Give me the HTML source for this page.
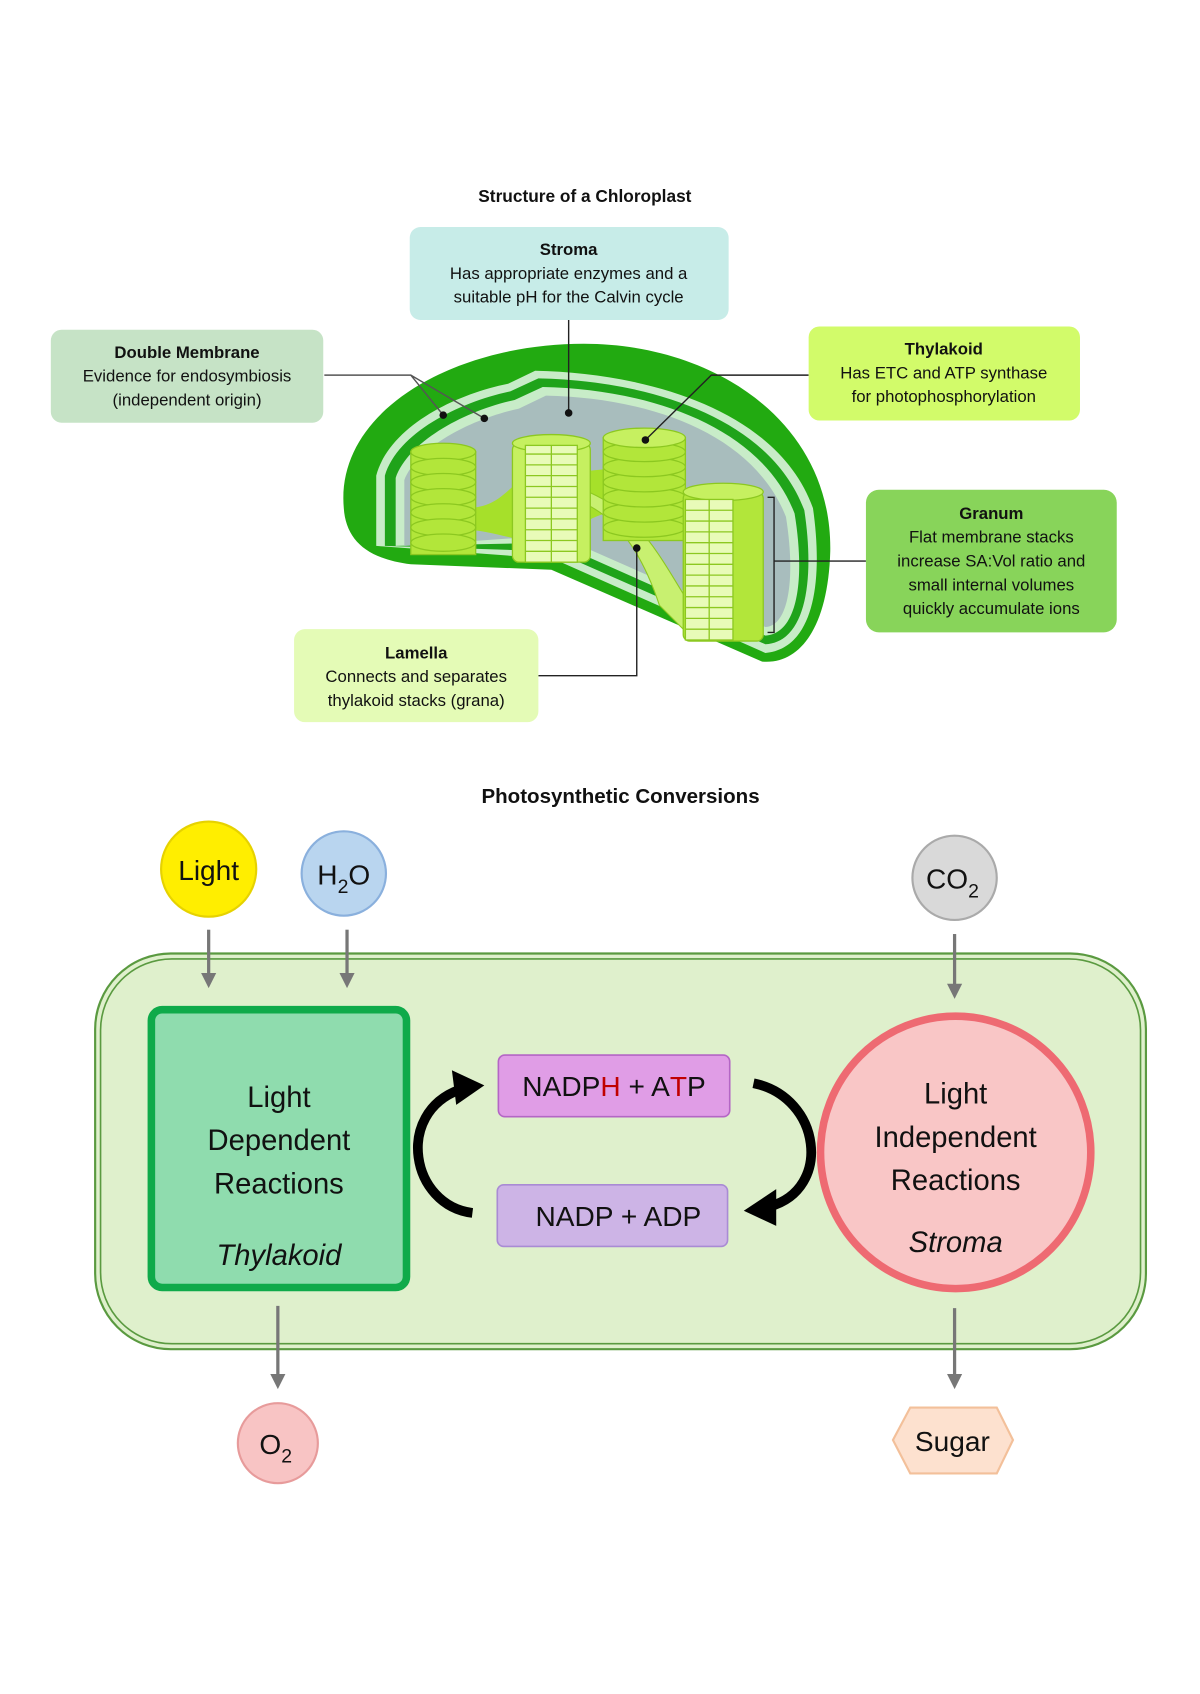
<!DOCTYPE html>
<html><head><meta charset="utf-8"><style>html,body{margin:0;padding:0;background:#fff}svg{display:block}</style></head><body>
<svg xmlns="http://www.w3.org/2000/svg" width="1200" height="1694" viewBox="0 0 1110 1567" font-family="Liberation Sans, sans-serif">
<rect width="1110" height="1567" fill="#fff"/>
<!-- Top title -->
<text x="541" y="187" font-size="16" font-weight="bold" text-anchor="middle" fill="#111">Structure of a Chloroplast</text>

<!-- Chloroplast -->
<path d="M318,470 C310,380 420,318 540,318 C660,318 770,390 768,510 C766,580 740,615 705,612 L510,527 L380,522 C340,517 320,500 318,470 Z" fill="#22aa11"/>
<path d="M348,505 L348,440 C360,395 420,365 470,355 L495,343 C600,345 720,380 752,470 C762,540 752,600 708,604 L512,517 Z" fill="#c8ecc8"/>
<path d="M356,505 L356,440 C368,400 425,372 472,362 L498,350 C600,352 712,386 744,472 C754,538 745,594 708,596 L513,510 Z" fill="#1fa31a"/>
<path d="M366,505 L366,442 C378,408 430,380 476,370 L502,358 C600,360 704,394 735,475 C745,536 738,586 708,588 L514,502 Z" fill="#c8ecc8"/>
<path d="M374,505 L374,444 C386,414 434,388 480,378 L505,366 C600,368 696,400 727,478 C736,534 730,579 708,580 L515,495 Z" fill="#a8bdbd"/>
<!-- lamella connections -->
<path d="M430,470 C470,470 470,440 500,440 L600,430 L600,470 C560,470 540,480 520,500 C500,510 460,490 430,490 Z" fill="#a6e02a"/>
<path d="M500,455 C560,460 590,500 610,560 L640,590 L650,575 C620,540 600,470 530,450 Z" fill="#c8f070" stroke="#8cc820" stroke-width="1"/>
<!-- stack 1 -->
<g fill="#b2e63a" stroke="#8cc820" stroke-width="1.2">
<rect x="380" y="418" width="60" height="95"/>
<ellipse cx="410" cy="418" rx="30" ry="8"/><ellipse cx="410" cy="432" rx="30" ry="8"/><ellipse cx="410" cy="446" rx="30" ry="8"/><ellipse cx="410" cy="460" rx="30" ry="8"/><ellipse cx="410" cy="474" rx="30" ry="8"/><ellipse cx="410" cy="488" rx="30" ry="8"/><ellipse cx="410" cy="502" rx="30" ry="8"/>
</g>
<!-- stack 2 cut -->
<g fill="#c6f060" stroke="#8cc820" stroke-width="1.2">
<rect x="474" y="410" width="72" height="110" rx="6"/>
<ellipse cx="510" cy="410" rx="36" ry="8"/>
<rect x="486" y="412" width="48" height="108" fill="#e8fbb8"/>
<path d="M486,420h48M486,430h48M486,440h48M486,450h48M486,460h48M486,470h48M486,480h48M486,490h48M486,500h48M486,510h48M510,412v108" fill="none"/>
</g>
<!-- stack 3 -->
<g fill="#b2e63a" stroke="#8cc820" stroke-width="1.2">
<rect x="558" y="405" width="76" height="95"/>
<ellipse cx="596" cy="488" rx="38" ry="9"/><ellipse cx="596" cy="474" rx="38" ry="9"/><ellipse cx="596" cy="460" rx="38" ry="9"/><ellipse cx="596" cy="446" rx="38" ry="9"/><ellipse cx="596" cy="432" rx="38" ry="9"/><ellipse cx="596" cy="418" rx="38" ry="9"/><ellipse cx="596" cy="405" rx="38" ry="9" fill="#c6f060"/>
</g>
<!-- stack 4 cut -->
<g fill="#b2e63a" stroke="#8cc820" stroke-width="1.2">
<rect x="632" y="455" width="74" height="138" rx="6"/>
<ellipse cx="669" cy="455" rx="37" ry="8" fill="#c6f060"/>
<rect x="634" y="462" width="44" height="130" fill="#e8fbb8"/>
<path d="M634,472h44M634,482h44M634,492h44M634,502h44M634,512h44M634,522h44M634,532h44M634,542h44M634,552h44M634,562h44M634,572h44M634,582h44M656,462v130" fill="none"/>
</g>

<!-- connector lines -->
<g stroke="#222" stroke-width="1.3" fill="none">
<path d="M526,296 V382"/>
<path d="M300,347 H380 L410,384 M380,347 L448,387" stroke="#555"/>
<path d="M748,347 H658 L597,407"/>
<path d="M801,519 H716 M710,460 H716 V585 H710"/>
<path d="M498,625 H589 V507"/>
</g>
<g fill="#111"><circle cx="526" cy="382" r="3.5"/><circle cx="410" cy="384" r="3.5"/><circle cx="448" cy="387" r="3.5"/><circle cx="597" cy="407" r="3.5"/><circle cx="589" cy="507" r="3.5"/></g>

<!-- label boxes -->
<g font-size="15.5" text-anchor="middle" fill="#111">
<rect x="379" y="210" width="295" height="86" rx="10" fill="#c7ece8"/>
<text x="526" y="236" font-weight="bold">Stroma</text>
<text x="526" y="258">Has appropriate enzymes and a</text>
<text x="526" y="280">suitable pH for the Calvin cycle</text>

<rect x="47" y="305" width="252" height="86" rx="10" fill="#c6e3c6"/>
<text x="173" y="331" font-weight="bold">Double Membrane</text>
<text x="173" y="353">Evidence for endosymbiosis</text>
<text x="173" y="375">(independent origin)</text>

<rect x="748" y="302" width="251" height="87" rx="10" fill="#d2fb6a"/>
<text x="873" y="328" font-weight="bold">Thylakoid</text>
<text x="873" y="350">Has ETC and ATP synthase</text>
<text x="873" y="372">for photophosphorylation</text>

<rect x="801" y="453" width="232" height="132" rx="12" fill="#88d45a"/>
<text x="917" y="480" font-weight="bold">Granum</text>
<text x="917" y="502">Flat membrane stacks</text>
<text x="917" y="524">increase SA:Vol ratio and</text>
<text x="917" y="546">small internal volumes</text>
<text x="917" y="568">quickly accumulate ions</text>

<rect x="272" y="582" width="226" height="86" rx="10" fill="#e4fbb6"/>
<text x="385" y="609" font-weight="bold">Lamella</text>
<text x="385" y="631">Connects and separates</text>
<text x="385" y="653">thylakoid stacks (grana)</text>
</g>

<!-- Bottom -->
<text x="574" y="743" font-size="19" font-weight="bold" text-anchor="middle" fill="#111">Photosynthetic Conversions</text>

<rect x="88" y="882" width="972" height="366" rx="70" fill="#dff0cc" stroke="#5a9a40" stroke-width="2"/>
<rect x="93" y="887" width="962" height="356" rx="66" fill="none" stroke="#5a9a40" stroke-width="1.5"/>

<!-- arrows gray -->
<g stroke="#777" stroke-width="3" fill="#777">
<line x1="193" y1="860" x2="193" y2="902"/><polygon points="186,900 200,900 193,914" stroke="none"/>
<line x1="321" y1="860" x2="321" y2="902"/><polygon points="314,900 328,900 321,914" stroke="none"/>
<line x1="883" y1="864" x2="883" y2="912"/><polygon points="876,910 890,910 883,924" stroke="none"/>
<line x1="257" y1="1208" x2="257" y2="1273"/><polygon points="250,1271 264,1271 257,1285" stroke="none"/>
<line x1="883" y1="1210" x2="883" y2="1273"/><polygon points="876,1271 890,1271 883,1285" stroke="none"/>
</g>

<g font-size="27" text-anchor="middle" fill="#111">
<ellipse cx="193" cy="804" rx="44" ry="44" fill="#ffee00" stroke="#e6d200" stroke-width="2"/>
<text x="193" y="814" font-size="26">Light</text>
<ellipse cx="318" cy="808" rx="39" ry="39" fill="#b9d5ef" stroke="#8ab0dd" stroke-width="2"/>
<text x="318" y="818" font-size="26">H<tspan font-size="18" dy="8">2</tspan><tspan dy="-8">O</tspan></text>
<ellipse cx="883" cy="812" rx="39" ry="39" fill="#d9d9d9" stroke="#aaaaaa" stroke-width="2"/>
<text x="881" y="822" font-size="26">CO<tspan font-size="18" dy="8">2</tspan></text>

<rect x="140" y="934" width="236" height="257" rx="10" fill="#8fdcae" stroke="#0faa4a" stroke-width="7"/>
<text x="258" y="1024">Light</text>
<text x="258" y="1064">Dependent</text>
<text x="258" y="1104">Reactions</text>
<text x="258" y="1170" font-style="italic">Thylakoid</text>

<ellipse cx="884" cy="1066" rx="125" ry="126" fill="#f9c6c6" stroke="#ee6a72" stroke-width="7"/>
<text x="884" y="1021">Light</text>
<text x="884" y="1061">Independent</text>
<text x="884" y="1101">Reactions</text>
<text x="884" y="1158" font-style="italic">Stroma</text>

<rect x="461" y="976" width="214" height="57" rx="6" fill="#e09de6" stroke="#b466c5" stroke-width="1.5"/>
<text x="568" y="1014" font-size="26">NADP<tspan fill="#c00000">H</tspan> + A<tspan fill="#c00000">T</tspan>P</text>
<rect x="460" y="1096" width="213" height="57" rx="6" fill="#cdb4e6" stroke="#a98bd4" stroke-width="1.5"/>
<text x="572" y="1134" font-size="26">NADP + ADP</text>

<ellipse cx="257" cy="1335" rx="37" ry="37" fill="#f8c4c4" stroke="#e79b9b" stroke-width="2"/>
<text x="255" y="1345" font-size="26">O<tspan font-size="18" dy="8">2</tspan></text>
<polygon points="842,1302 922,1302 937,1332 922,1363 842,1363 826,1332" fill="#fde1cf" stroke="#f3c09a" stroke-width="2"/>
<text x="881" y="1342" font-size="26">Sugar</text>
</g>

<!-- curved black arrows -->
<path d="M437,1122 C380,1115 365,1030 425,1008" fill="none" stroke="#000" stroke-width="9"/>
<polygon points="418,990 448,1004 422,1022" fill="#000"/>
<path d="M697,1002 C760,1015 770,1100 712,1116" fill="none" stroke="#000" stroke-width="9"/>
<polygon points="718,1100 688,1120 718,1134" fill="#000"/>
</svg>
</body></html>
